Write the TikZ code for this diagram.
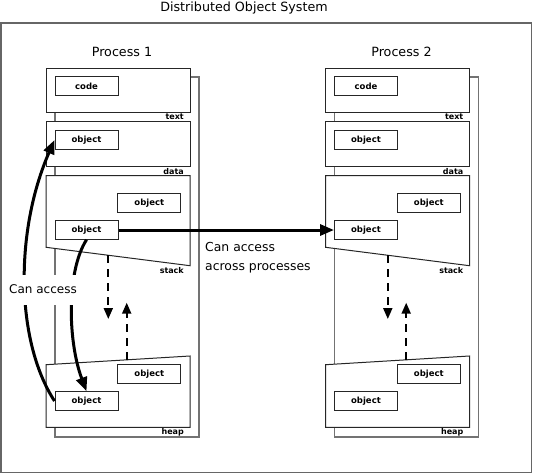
\documentclass[tikz,border=0pt]{standalone}
\usepackage{fontspec}
\setmainfont{DejaVu Sans}
\usetikzlibrary{arrows.meta,calc}
\begin{document}
\begin{tikzpicture}[x=1pt,y=-1pt,
  seg/.style={draw=black!85, line width=1pt, fill=white},
  backframe/.style={draw=black!55, line width=1.4pt},
  outerframe/.style={draw=black!60, line width=1.8pt},
  box/.style={draw=black!85, line width=1pt, fill=white, minimum width=63pt,
    minimum height=18.5pt, inner sep=0pt, font=\bfseries\fontsize{8.5}{10}\selectfont},
  seglabel/.style={anchor=east, inner sep=0pt, font=\bfseries\fontsize{8}{9}\selectfont},
  bigarrow/.style={line width=3pt, -{Triangle[length=14pt,width=11pt]}},
  dasharrow/.style={line width=2pt, dash pattern=on 8pt off 6pt,
    -{Triangle[length=11pt,width=9pt]}},
  bigtitle/.style={inner sep=0pt, font=\fontsize{12.7}{15}\selectfont},
]
\useasboundingbox (0,0) rectangle (533,474);
\node[bigtitle] (title) at (244,8) {Distributed Object System};
\draw[outerframe] (1,23) rectangle (531.5,472.5);

\foreach \p/\dx in {1/0, 2/279.5} {
  \begin{scope}[xshift=\dx pt]
    \node[bigtitle] (proc\p) at (122,52) {Process \p};
    \draw[backframe] (55,77) rectangle (199,437);
    \draw[seg] (46,68) rectangle (190,112.7);
    \draw[seg] (46,121.7) rectangle (190,166.7);
    \draw[seg] (46,175.7) -- (190,175.7) -- (190,265.7) -- (46,247.3) -- cycle;
    \draw[seg] (46,364.7) -- (190,356) -- (190,427.3) -- (46,427.3) -- cycle;
    \node[seglabel] (ltext\p) at (184,117) {text};
    \node[seglabel] (ldata\p) at (184,171.5) {data};
    \node[seglabel] (lstack\p) at (184,270.7) {stack};
    \node[seglabel] (lheap\p) at (184,432) {heap};
    \node[box] (code\p) at (86.5,86) {code};
    \node[box] (od\p) at (86.5,140) {object};
    \node[box] (osr\p) at (149.3,203) {object};
    \node[box] (os\p) at (86.5,230) {object};
    \node[box] (ohr\p) at (149.3,374) {object};
    \node[box] (oh\p) at (86.5,401) {object};
    \coordinate (sd\p) at (108.3,255.3);
    \coordinate (hd\p) at (108.3,319);
    \coordinate (hu\p) at (126.7,359.8);
    \coordinate (su\p) at (126.7,302.7);
    \draw[dasharrow] (sd\p) -- (hd\p);
    \draw[dasharrow] (hu\p) -- (su\p);
  \end{scope}
}

% access arrows in process 1
\draw[bigarrow] (oh1.west) .. controls (15,340) and (15,230) .. (od1.west);
\draw[bigarrow] (os1.south) .. controls (66,272) and (68,342) .. (oh1.north);
\node[fill=white, inner xsep=2pt, minimum height=30pt,
  font=\fontsize{12}{14}\selectfont] (canacc) at (43,289.5) {Can access};

% across processes
\draw[bigarrow] (os1.east) -- (os2.west);
\node[anchor=west, align=left, inner sep=0pt,
  font=\fontsize{12.4}{18.5}\selectfont] (across) at (205,257.5) {Can access\\across processes};
\end{tikzpicture}
\end{document}
